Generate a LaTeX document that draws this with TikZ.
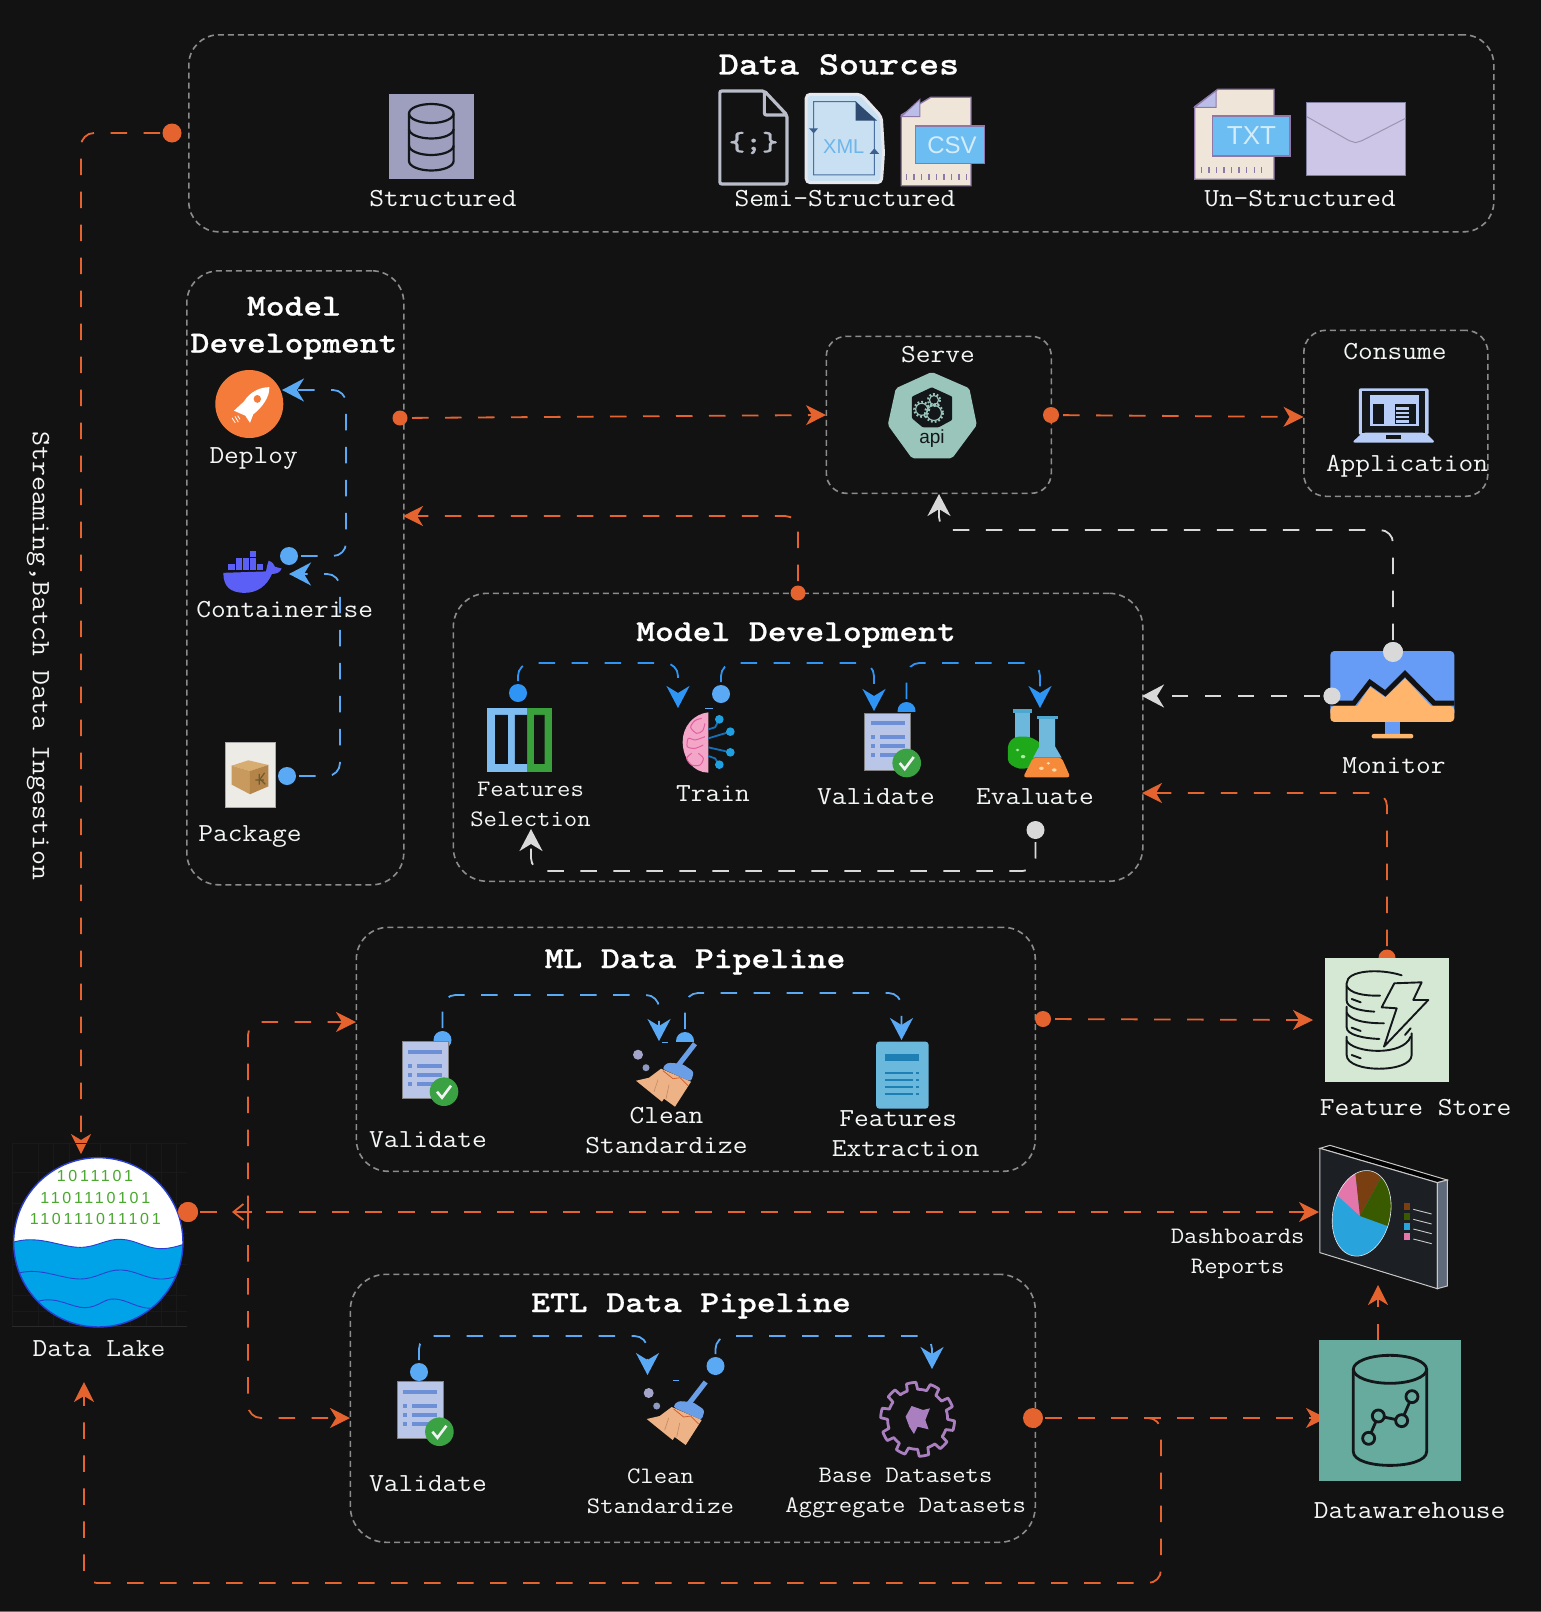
\documentclass[tikz,border=0pt]{standalone}
\usepackage{fontspec}
\usetikzlibrary{arrows.meta}
\newfontfamily\rgf[FakeStretch=1.10]{Latin Modern Mono}
\newfontfamily\bdf[FakeStretch=1.17,FakeBold=0.7,Extension=.otf]{lmmonolt10-bold}
\newfontfamily\lsans{Liberation Sans}
\newfontfamily\binf[LetterSpace=17]{Liberation Sans}
\definecolor{bgc}{HTML}{121212}
\definecolor{grpc}{HTML}{8C8C8C}
\definecolor{orng}{HTML}{E5632F}
\definecolor{blua}{HTML}{5AA9F5}
\definecolor{blub}{HTML}{2F95F5}
\definecolor{gryc}{HTML}{D9D9D9}
\definecolor{txtc}{HTML}{F4F6F6}
\definecolor{inkc}{HTML}{14171A}
\definecolor{papr}{HTML}{B9C6E8}
\definecolor{pln}{HTML}{6D8FD6}
\definecolor{lav}{HTML}{CDC6E6}
\definecolor{purp}{HTML}{8F78A8}
\definecolor{mailb}{HTML}{7F7F9F}
\definecolor{pkb}{HTML}{AAAAAA}
\definecolor{dbl}{HTML}{C8C8C8}
\definecolor{bing}{HTML}{4AA82E}
\definecolor{jsonc}{HTML}{B9BDC9}
\definecolor{xmlc}{HTML}{6DB5EA}
\definecolor{csvc}{HTML}{D4ECFA}
\definecolor{brsh}{HTML}{C08A60}
\definecolor{apic}{HTML}{9AC5BB}
\tikzset{
 HTML/.code={\definecolor{tmphtml}{HTML}{#1}\pgfkeysalso{color=tmphtml}},
 grp/.style={draw=grpc,line width=1.6pt,dash pattern=on 6pt off 4pt,inner sep=0pt,anchor=north west,rounded corners=#1},
 dotO/.style={circle,fill=orng,inner sep=0pt,minimum size=#1},
 dotB/.style={circle,fill=blua,inner sep=0pt,minimum size=#1},
 dotC/.style={circle,fill=blub,inner sep=0pt,minimum size=#1},
 dotG/.style={circle,fill=gryc,inner sep=0pt,minimum size=#1},
 con/.style={line width=1.8pt,dash pattern=on 16.5pt off 16.5pt,dash phase=21pt,rounded corners=13pt,draw=#1,
   -{Stealth[length=20pt,width=20pt,inset=6pt,fill=#1]}},
 conb/.style={line width=1.8pt,dash pattern=on 16.5pt off 16.5pt,dash phase=21pt,rounded corners=13pt,draw=#1,
   -{Stealth[length=22pt,width=23pt,inset=7pt,fill=#1]}},
 lb/.style={text=txtc,font=\rgf\fontsize{26}{30}\selectfont,align=center,inner sep=0pt},
 lbs/.style={text=txtc,font=\rgf\fontsize{23.6}{30}\selectfont,align=center,inner sep=0pt},
 ttl/.style={text=white,font=\bdf\fontsize{30.6}{37}\selectfont,align=center,inner sep=0pt},
 ttb/.style={text=white,font=\bdf\fontsize{32.6}{37}\selectfont,align=center,inner sep=0pt},
 ico/.style={inner sep=0pt},
 zb/.style={shift={(700,0)},x=0.5365pt,y=-0.3333pt},
 zc/.style={shift={(170,340)},x=0.3333pt,y=-0.3571pt},
 zd/.style={shift={(440,580)},x=0.4591pt,y=-0.3333pt},
 ze/.style={shift={(340,920)},x=0.4591pt,y=-0.3333pt},
 zf/.style={shift={(340,1270)},x=0.4591pt,y=-0.3333pt},
 zg/.style={shift={(1130,620)},x=0.3333pt,y=-0.3333pt},
 zh/.style={shift={(1130,1130)},x=0.3333pt,y=-0.3333pt},
 zi/.style={shift={(0,1130)},x=0.3333pt,y=-0.3333pt},
 zj/.style={shift={(660,690)},x=0.3333pt,y=-0.3333pt},
}
% paper with check, local px, origin at paper's top left
\newcommand{\valdoc}[2]{\begin{scope}[shift={(#1,#2)}]
 \fill[papr,draw=gray,line width=.8pt] (0,0) rectangle (46,57);
 \fill[pln] (6,8) rectangle (40,12);
 \foreach \yy in {22,31,40}{\fill[pln] (6,\yy) rectangle (10,\yy+4);\fill[pln] (15,\yy) rectangle (40,\yy+4);}
 \fill[HTML=3BA243] (42,50) circle[radius=14.3];
 \draw[white!90!gray,line width=2.6pt] (35,50) -- (40,56) -- (49,44);
\end{scope}}
% broom, local px
\newcommand{\broom}[2]{\begin{scope}[shift={(#1,#2)}]
 \fill[blua] (26,0) rectangle (32,1);
 \draw[HTML=6A9FE8,line width=5pt] (59,2) -- (42,24);
 \fill[HTML=6A9FE8,rounded corners=3pt] (31,21) -- (46,22) -- (58,30) -- (55,40) -- (26,27) -- cycle;
 \fill[HTML=EDB285] (25,27) -- (55,40) -- (39,65) -- (28,57) -- (26,60) -- (16,52) -- (0,39) -- (13,36) -- cycle;
 \draw[HTML=D0582A,line width=.7pt] (27,29) -- (37,37) -- (44,36) -- (52,44);
 \draw[brsh,line width=.6pt] (22,38) -- (18,50) (33,43) -- (30,57);
 \fill[HTML=A5A5CC] (2,13) circle[radius=5];
 \fill[HTML=8F9AC0] (10,26) circle[radius=3.5];
\end{scope}}
\begin{document}
\begin{tikzpicture}[x=1pt,y=-1pt]
\useasboundingbox (0,0) rectangle (1541,1612);
\fill[bgc] (0,0) rectangle (1541,1612);
\fill[HTML=6A6A6A] (0,1611.3) rectangle (1541,1612);
%% groups
\node[grp=30pt,minimum width=1305pt,minimum height=197pt] (gsrc) at (188,34) {};
\node[grp=32pt,minimum width=217pt,minimum height=614pt] (gdev) at (186,270) {};
\node[grp=20pt,minimum width=225pt,minimum height=157pt] (gserve) at (825.5,335.5) {};
\node[grp=22pt,minimum width=184pt,minimum height=166pt] (gcons) at (1303,329.5) {};
\node[grp=34pt,minimum width=689.5pt,minimum height=288pt] (gmod) at (452.5,592.5) {};
\node[grp=32pt,minimum width=679pt,minimum height=244pt] (gml) at (355.5,926.5) {};
\node[grp=36pt,minimum width=685pt,minimum height=268pt] (getl) at (349.5,1273.5) {};
%% dots and end points
\node[dotO=19pt] (dsrc) at (172,133) {};
\node[dotO=20pt] (dlake) at (188,1212) {};
\node[dotO=20pt] (detl) at (1033,1418) {};
\node[dotO=16pt] (dml) at (1043,1019) {};
\node[dotO=17pt] (dfs) at (1387,958) {};
\node[dotG=17pt] (dmon) at (1332,696) {};
\node[dotG=20pt] (dmtop) at (1393,652) {};
\node[dotO=15pt] (ddev) at (400,418) {};
\node[dotO=16pt] (dserve) at (1051,415) {};
\node[dotO=15pt] (dmod) at (798,593) {};
\node[dotB=18pt] (dpack) at (287,776) {};
\node[dotB=18pt] (ddock) at (289,556) {};
\node[dotC=18pt] (dfeat) at (518,693) {};
\node[dotB=18pt] (dtrain) at (721,694) {};
\node[dotC=18pt] (dval) at (906.5,711) {};
\node[dotG=18pt] (deval) at (1035.5,830) {};
\node[dotB=18pt] (dmlv) at (442.5,1040) {};
\node[dotB=18pt] (dmlc) at (685,1041) {};
\node[dotB=18pt] (detv) at (419,1372) {};
\node[dotB=18pt] (detc) at (715.5,1366) {};
\coordinate (tlake) at (81,1154);
\coordinate (adash) at (1319,1212);
\coordinate (jc) at (248,1212);
\coordinate (tml) at (356,1022);
\coordinate (tetl) at (350,1418);
\coordinate (twh) at (1326,1418);
\coordinate (jw) at (1144,1418);
\coordinate (wa) at (1161,1583);
\coordinate (tlk2) at (84,1382);
\coordinate (wb) at (1378,1340);
\coordinate (tdb) at (1378,1285);
\coordinate (tfs) at (1313,1020);
\coordinate (tmod) at (1142,793);
\coordinate (tmon) at (1142,696);
\coordinate (wc) at (1393,530);
\coordinate (tserve) at (939,494);
\coordinate (tserve2) at (826,415);
\coordinate (tcons) at (1303.5,417);
\coordinate (tdev) at (403,516);
\coordinate (wp) at (340,574);
\coordinate (tdock) at (289,574);
\coordinate (wq) at (346,390);
\coordinate (tdep) at (282,390);
\coordinate (wf) at (678,663);
\coordinate (tf) at (678,708);
\coordinate (wt) at (874,663);
\coordinate (tt) at (874,711);
\coordinate (wv) at (1040,663);
\coordinate (tv) at (1040,708);
\coordinate (we) at (531,871);
\coordinate (te) at (531,829);
\coordinate (wm) at (659,995);
\coordinate (tm) at (659,1041);
\coordinate (wn) at (901.5,993);
\coordinate (tn) at (901.5,1040);
\coordinate (wr) at (647.5,1336);
\coordinate (tr) at (647.5,1375);
\coordinate (ws) at (932,1336);
\coordinate (ts) at (932,1369);
\coordinate (jo) at (252,1212);
\coordinate (jt) at (232,1212);
%% connectors
\draw[con=orng] (dsrc.center) -| (tlake);
\draw[con=orng] (dlake.center) -- (adash);
\draw[line width=1.8pt,draw=orng,-{Straight Barb[length=10pt,width=16pt]}] (jo) -- (jt);
\draw[con=orng,dash phase=0pt] (jc) |- (tml);
\draw[con=orng,dash phase=0pt] (jc) |- (tetl);
\draw[con=orng] (detl.center) -- (twh);
\draw[con=orng,dash phase=0pt] (jw) -| (wa) -| (tlk2);
\draw[con=orng,dash phase=0pt] (wb) -- (tdb);
\draw[con=orng] (dml.center) -- (tfs);
\draw[con=orng] (dfs.center) |- (tmod);
\draw[conb=gryc] (dmon.center) -- (tmon);
\draw[conb=gryc] (dmtop.center) -- (wc) -- (wc -| tserve) -- (tserve);
\draw[con=orng] (ddev.center) -- (tserve2);
\draw[con=orng] (dserve.center) -- (tcons);
\draw[con=orng] (dmod.center) |- (tdev);
\draw[conb=blua] (dpack.center) -| (wp) -- (tdock);
\draw[conb=blua] (ddock.center) -| (wq) -- (tdep);
\draw[conb=blub] (dfeat.center) |- (wf) -- (tf);
\draw[conb=blub] (dtrain.center) |- (wt) -- (tt);
\draw[conb=blub] (dval.center) |- (wv) -- (tv);
\draw[conb=gryc] (deval.center) |- (we) -- (te);
\draw[conb=blua] (dmlv.center) |- (wm) -- (tm);
\draw[conb=blua] (dmlc.center) |- (wn) -- (tn);
\draw[conb=blua] (detv.center) |- (wr) -- (tr);
\draw[conb=blua] (detc.center) |- (ws) -- (ts);
%% ---------- icons
% structured
\fill[HTML=9E9EBE] (389,94.3) rectangle (473.6,179.3);
\begin{scope}[line width=2.2pt]
 \draw[inkc] (409,113.5) -- (409,161) arc[start angle=180,end angle=0,x radius=22.3,y radius=9.5] -- (453.6,113.5);
 \draw[inkc] (431.3,113.5) ellipse[x radius=22.3,y radius=9.5];
 \draw[inkc] (409,129) arc[start angle=180,end angle=0,x radius=22.3,y radius=9.5];
 \draw[inkc] (409,145.5) arc[start angle=180,end angle=0,x radius=22.3,y radius=9.5];
\end{scope}
% json, xml, csv, txt, mail
\begin{scope}[zb]
 \draw[jsonc,line width=3.2pt,rounded corners=2pt] (37,273) -- (120,273) -- (162,345) -- (162,552) -- (37,552) -- cycle (120,273) -- (120,345) -- (162,345);
 \fill[HTML=C8E0F2,rounded corners=4pt] (198,283) -- (300,283) -- (338,350) -- (342,460) -- (338,548) -- (198,548) -- (198,390) -- cycle;
 \draw[HTML=E6E8EE,line width=3pt,rounded corners=4pt] (198,283) -- (300,283) -- (338,350) -- (342,460) -- (338,548) -- (198,548) -- (198,390) -- cycle;
 \draw[HTML=4A6FA0,line width=1pt] (212,305) -- (290,305) -- (325,362) -- (325,525) -- (212,525) -- cycle;
 \fill[HTML=2E4A70] (290,305) -- (290,362) -- (330,362) -- cycle;
 \fill[HTML=3D5F8F] (203,385) -- (220,385) -- (212,400) -- cycle;
 \fill[HTML=3D5F8F] (316,462) -- (334,462) -- (325,445) -- cycle;
 \fill[HTML=EFE6D9,draw=purp,line width=1.3pt] (375,345) -- (430,292) -- (505,292) -- (505,557) -- (375,557) -- cycle;
 \fill[HTML=B9BDE8,draw=purp,line width=1pt] (375,350) -- (410,350) -- (410,298) -- cycle;
 \foreach \xx in {385,399,...,497}{\draw[purp,line width=1.4pt] (\xx,522) -- (\xx,540);}
 \fill[HTML=6CBDF2,draw=purp,line width=1.6pt] (402,378) rectangle (530,490);
 \fill[HTML=EFE6D9,draw=purp,line width=1.3pt] (922,320) -- (965,268) -- (1070,268) -- (1070,538) -- (922,538) -- cycle;
 \fill[HTML=B9BDE8,draw=purp,line width=1pt] (922,322) -- (962,322) -- (962,272) -- cycle;
 \foreach \xx in {935,949,...,1055}{\draw[purp,line width=1.4pt] (\xx,502) -- (\xx,520);}
 \fill[HTML=6CBDF2,draw=purp,line width=1.6pt] (955,348) rectangle (1100,468);
 \fill[lav,draw=mailb,line width=1pt] (1131,308) rectangle (1315,526);
 \draw[HTML=9A95B0,line width=1pt] (1131,350) -- (1210,422) -- (1222,428) -- (1234,422) -- (1315,355);
\end{scope}
% deploy
\fill[HTML=F47B39] (249.3,404) circle[radius=34];
\begin{scope}[zc]
 \fill[white] (298,132) .. controls (300,160) and (275,190) .. (250,208) -- (240,232) -- (226,212) -- (192,198) -- (222,172) .. controls (240,145) and (270,132) .. (298,132) -- cycle;
 \fill[HTML=F47B39] (262,165) circle[radius=11];
 \draw[white,line width=.8pt] (186,218) -- (196,232) (195,214) -- (205,230) (203,212) -- (210,222);
\end{scope}
% docker
\begin{scope}[zc]
 \fill[HTML=5B5FF5] (160,652) -- (288,648) .. controls (292,630) and (293,625) .. (296,618) .. controls (308,622) and (312,628) .. (315,635) -- (335,640) .. controls (330,652) and (318,655) .. (306,655) .. controls (290,690) and (260,708) .. (225,708) .. controls (180,708) and (160,690) .. (160,652) -- cycle;
 \foreach \xx in {175,197,218,240,261}{\fill[HTML=5B5FF5] (\xx,628) rectangle +(19,16);}
 \foreach \xx in {197,218,240}{\fill[HTML=5B5FF5] (\xx,610) rectangle +(19,16);}
 \fill[HTML=5B5FF5] (240,592) rectangle +(19,16);
% package
 \fill[HTML=ECEBE6,draw=pkb,line width=.5pt] (167,1127) rectangle (315,1308);
 \fill[HTML=D8AD72] (185,1192) -- (235,1177) -- (295,1190) -- (240,1207) -- cycle;
 \fill[HTML=C99A5D] (185,1192) -- (240,1207) -- (240,1272) -- (185,1245) -- cycle;
 \fill[HTML=B58448] (240,1207) -- (295,1190) -- (295,1250) -- (240,1272) -- cycle;
 \draw[HTML=6E5A30,line width=1.2pt] (268,1215) -- (268,1245) (284,1212) -- (270,1230) -- (286,1244) (256,1232) -- (282,1232);
\end{scope}
% api
\begin{scope}[zb]
 \fill[apic,rounded corners=2pt] (432,1116) -- (502,1165) -- (516,1275) -- (470,1375) -- (395,1375) -- (350,1275) -- (365,1165) -- cycle;
 \fill[inkc,rounded corners=1pt] (432,1162) -- (470,1190) -- (470,1260) -- (445,1282) -- (415,1282) -- (395,1255) -- (395,1190) -- cycle;
\end{scope}
\foreach \a/\b/\r in {921.7/409.3/6,934/400/4.5,934/413/7.5}{
 \draw[apic,line width=1.1pt] (\a,\b) circle[radius=\r];
 \draw[apic,line width=2.2pt,dash pattern=on 1.8pt off 2pt] (\a,\b) circle[radius=\r+1.4];
}
\begin{scope}[zb]
% laptop
 \fill[HTML=B8CCF8,rounded corners=2pt] (1228,1165) rectangle (1358,1305);
 \fill[inkc] (1234,1173) rectangle (1352,1298);
 \fill[HTML=B8CCF8] (1248,1185) rectangle (1340,1277);
 \fill[inkc] (1255,1213) rectangle (1275,1273);
 \fill[inkc] (1295,1213) rectangle (1335,1273);
 \foreach \yy in {1222,1235,1248,1261}{\fill[HTML=B8CCF8] (1298,\yy) rectangle (1322,\yy+7);}
 \fill[HTML=B8CCF8,rounded corners=3pt] (1235,1298) -- (1352,1298) -- (1371,1328) -- (1215,1328) -- cycle;
 \fill[inkc] (1278,1306) rectangle (1306,1318);
\end{scope}
% feature selection
\begin{scope}[zd]
 \fill[HTML=7FBDF0] (103,383) rectangle (190,575);
 \fill[HTML=39A03C] (190,383) rectangle (243,575);
 \fill[bgc] (120,405) rectangle (148,552) (163,405) rectangle (190,552) (205,405) rectangle (228,552);
\end{scope}
% brain
\begin{scope}[zj]
 \fill[blua] (135,54) rectangle (160,58);
 \fill[HTML=F4A6C8] (145,67) .. controls (100,72) and (68,110) .. (68,155) .. controls (68,205) and (100,248) .. (145,248) -- cycle;
 \draw[HTML=E0609F,line width=1pt,smooth] plot coordinates {(125,85) (105,92) (92,112) (110,130) (128,122) (135,100)};
 \draw[HTML=E0609F,line width=1pt] plot[smooth] coordinates {(135,140) (105,150) (85,145) (82,170) (105,175) (130,165)};
 \draw[HTML=E0609F,line width=1pt] plot[smooth] coordinates {(95,190) (80,205) (95,225) (120,225) (130,205) (115,190)};
 \draw[HTML=1670B8,line width=1.8pt] (145,118) -- (165,112) -- (178,88) (145,145) -- (211,125) (145,172) -- (211,187) (145,198) -- (165,205) -- (178,224);
 \fill[HTML=1FA0E0] (178,88) circle[radius=13] (211,125) circle[radius=13] (211,187) circle[radius=13] (178,224) circle[radius=13];
\end{scope}
% flasks
\begin{scope}[zd]
 \fill[HTML=6BB8DC] (1252,392) rectangle (1285,490);
 \fill[HTML=1FA81A,rounded corners=4pt] (1252,470) -- (1237,490) -- (1237,550) -- (1262,568) -- (1300,560) -- (1310,490) -- (1285,470) -- cycle;
 \fill[HTML=4DA7CF] (1247,388) rectangle (1290,400);
 \fill[bgc] (1275,592) -- (1305,505) -- (1305,420) -- (1350,420) -- (1375,592) -- cycle;
 \fill[HTML=70B8DC] (1305,412) -- (1340,412) -- (1340,500) -- (1354,533) -- (1292,533) -- (1305,500) -- cycle;
 \fill[HTML=4DA7CF] (1300,407) rectangle (1345,418);
 \fill[HTML=F58A3A,rounded corners=3pt] (1292,533) -- (1354,533) -- (1373,592) -- (1270,592) -- cycle;
 \fill[HTML=FFD9A8] (1310,565) circle[radius=5] (1338,570) circle[radius=5] (1325,550) circle[radius=4];
 \fill[HTML=B0E8A8] (1258,510) circle[radius=4] (1270,530) circle[radius=5];
\end{scope}
\fill[bgc] (890,712) rectangle (925,720);
\valdoc{864.7}{713}
\valdoc{402}{1041.7}
\valdoc{397.4}{1381.7}
\fill[bgc] (665,1041.7) rectangle (705,1060);
\broom{636}{1041.7}
\broom{646.7}{1380}
% features doc
\begin{scope}[ze]
 \fill[HTML=6AB9DC,rounded corners=3pt] (1168,365) rectangle (1282,566);
 \fill[HTML=1E7FB5] (1188,403) rectangle (1262,424);
 \foreach \yy in {455,476,497,518}{\fill[HTML=1E7FB5] (1188,\yy) rectangle (1248,\yy+8);\fill[HTML=1E7FB5] (1255,\yy) rectangle (1262,\yy+8);}
\end{scope}
% gear
\draw[HTML=A97FC0,line width=2.8pt,line join=round] plot[samples=145,domain=0:360] ({917.6+(33.5+3.5*((sin(10*\x)>0)?1:-1))*cos(\x)},{1419.3+(33.5+3.5*((sin(10*\x)>0)?1:-1))*sin(\x)}) -- cycle;
\begin{scope}[zf]
 \fill[HTML=A97FC0] (1245,408) -- (1270,420) -- (1285,415) -- (1275,450) -- (1282,478) -- (1258,470) -- (1250,492) -- (1240,470) -- (1232,440) -- cycle;
\end{scope}
% monitor
\begin{scope}[zg]
 \fill[HTML=669CF5,rounded corners=4pt] (601,93) rectangle (973,290);
 \fill[HTML=669CF5] (765,300) rectangle (810,345);
 \fill[HTML=FFB56B,rounded corners=2pt] (725,342) rectangle (850,355);
 \fill[HTML=FFB56B,rounded corners=4pt] (601,258) rectangle (973,306);
 \fill[HTML=FFB56B] (680,260) -- (720,200) -- (766,232) -- (825,175) -- (905,260) -- cycle;
 \draw[bgc,line width=5pt,miter limit=3] (601,249) -- (672,249) -- (720,187) -- (766,220) -- (825,161) -- (912,249) -- (973,249);
\end{scope}
\node[dotG=17pt] (dmon2) at (dmon) {};
\node[dotG=20pt] (dmtop2) at (dmtop) {};
% feature store
\fill[HTML=D5E8D4] (1325,957.7) rectangle (1449,1081.7);
\begin{scope}[zg,line width=1.9pt]
 \draw[inkc,line cap=round,line join=round] (815,1066) .. controls (750,1045) and (650,1050) .. (650,1090) -- (650,1142) .. controls (650,1160) and (680,1172) .. (733,1175);
 \draw[inkc,line cap=round] (650,1098) .. controls (660,1120) and (700,1128) .. (750,1127);
 \draw[inkc,line cap=round] (650,1160) -- (650,1222) .. controls (650,1245) and (700,1255) .. (748,1257);
 \draw[inkc,line cap=round] (650,1178) .. controls (660,1200) and (700,1210) .. (762,1210);
 \draw[inkc,line cap=round] (665,1137) -- (692,1147) (665,1223) -- (692,1233) (665,1305) -- (692,1315);
 \draw[inkc,line join=round] (793,1090) -- (875,1087) -- (850,1140) -- (895,1140) -- (762,1280) -- (800,1165) -- (755,1162) -- cycle;
 \draw[inkc,line cap=round] (650,1250) -- (650,1305) .. controls (650,1360) and (845,1360) .. (845,1305) -- (845,1240);
 \draw[inkc,line cap=round] (650,1262) .. controls (670,1300) and (820,1310) .. (842,1250) (825,1245) -- (842,1225);
\end{scope}
% dashboard
\begin{scope}[zh]
 \fill[black,draw=dbl,line width=1pt] (570,55) -- (600,46) -- (952,150) -- (922,158) -- cycle;
 \fill[HTML=1C2024,draw=dbl,line width=1pt] (570,55) -- (922,158) -- (922,476) -- (570,368) -- cycle;
 \fill[HTML=5E6A7A,draw=dbl,line width=1pt] (922,158) -- (952,150) -- (952,468) -- (922,476) -- cycle;
 \begin{scope}
  \clip[rotate around={-12:(695,250)}] (695,250) ellipse[x radius=86,y radius=130];
  \fill[HTML=29A3DC] (560,100) rectangle (820,400);
  \fill[HTML=E377AB] (560,140) -- (690,258) -- (673,100) -- (560,100) -- cycle;
  \fill[HTML=7A3F10] (673,100) -- (690,258) -- (760,130) -- (760,100) -- cycle;
  \fill[HTML=3A5A00] (760,130) -- (690,258) -- (820,305) -- (820,130) -- cycle;
 \end{scope}
 \draw[HTML=E6E6E6,line width=.6pt,rotate around={-12:(695,250)}] (695,250) ellipse[x radius=86,y radius=130];
 \fill[HTML=7A3F10] (822,220) rectangle (840,240);
 \fill[HTML=3A5A00] (822,250) rectangle (840,269);
 \fill[HTML=29A3DC] (822,280) rectangle (840,300);
 \fill[HTML=E377AB] (822,310) rectangle (840,330);
 \draw[dbl,line width=.9pt] (850,238) -- (905,252) (850,268) -- (905,282) (850,297) -- (905,311) (850,327) -- (905,341);
\end{scope}
% datawarehouse
\fill[HTML=67AB9F] (1319.3,1340) rectangle (1460.7,1480.7);
\begin{scope}[zh,line width=2.8pt]
 \draw[inkc] (780,718) ellipse[x radius=110,y radius=42];
 \draw[inkc] (670,718) -- (670,965) .. controls (670,1020) and (890,1020) .. (890,965) -- (890,718);
 \draw[inkc] (716,925) -- (745,858) -- (815,872) -- (846,800);
 \foreach \a/\b in {716/925,745/858,815/872,846/800}{\fill[HTML=67AB9F,draw=inkc] (\a,\b) circle[radius=18];}
\end{scope}
% data lake
\begin{scope}[zi]
 \foreach \xx in {36,114,160,208,300,392,438,485,530}{\draw[HTML=191919,line width=.5pt] (\xx,40) -- (\xx,590);}
 \foreach \yy in {40,128,220,310,404,497,544}{\draw[HTML=191919,line width=.5pt] (36,\yy) -- (560,\yy);}
 \draw[HTML=2A2A2A,line width=.8pt] (36,590) -- (560,590);
 \fill[white] (295,337) circle[radius=254];
 \begin{scope}
  \clip (295,337) circle[radius=254];
  \fill[HTML=00A2E8] (30,340) .. controls (110,310) and (180,352) .. (240,352) .. controls (290,352) and (320,325) .. (365,328) .. controls (410,330) and (440,358) .. (490,356) .. controls (510,355) and (530,350) .. (560,340) -- (560,600) -- (30,600) -- cycle;
  \draw[HTML=2A3FD0,line width=.9pt] (30,340) .. controls (110,310) and (180,352) .. (240,352) .. controls (290,352) and (320,325) .. (365,328) .. controls (410,330) and (440,358) .. (490,356) .. controls (510,355) and (530,350) .. (560,340);
  \draw[HTML=2A3FD0,line width=.9pt] (40,435) .. controls (110,405) and (180,447) .. (240,447) .. controls (290,447) and (320,417) .. (365,420) .. controls (410,422) and (440,449) .. (490,447) .. controls (510,446) and (530,440) .. (560,425);
  \draw[HTML=2A3FD0,line width=.9pt] (100,520) .. controls (160,490) and (210,533) .. (255,533) .. controls (295,533) and (310,505) .. (345,507) .. controls (385,510) and (410,535) .. (455,535);
 \end{scope}
 \draw[HTML=2A3FD0,line width=1.4pt] (295,337) circle[radius=254];
 \node[ico,text=bing,font=\binf\fontsize{16}{16}\selectfont] (r1) at (285,137) {1011101};
 \node[ico,text=bing,font=\binf\fontsize{16}{16}\selectfont] (r2) at (286,203) {1101110101};
 \node[ico,text=bing,font=\binf\fontsize{16}{16}\selectfont] (r3) at (286,268) {110111011101};
\end{scope}
\node[dotO=20pt] (dlake2) at (dlake) {};
%% icon text
\node[ico,text=jsonc,font=\bdf\fontsize{27}{27}\selectfont] (tjson) at (753.6,143) {\{;\}};
\node[ico,text=xmlc,font=\lsans\fontsize{20}{20}\selectfont] (txml) at (843.8,147) {XML};
\node[ico,text=csvc,font=\lsans\fontsize{24}{24}\selectfont] (tcsv) at (952,145) {CSV};
\node[ico,text=csvc,font=\lsans\fontsize{26}{26}\selectfont] (ttxt) at (1251.5,136) {TXT};
\node[ico,text=inkc,font=\lsans\fontsize{19}{19}\selectfont] (tapi) at (932,439) {api};
%% labels
\node[ttb] (ldata) at (839,64.5) {Data Sources};
\node[lb] (lstr) at (443,199) {Structured};
\node[lb] (lsemi) at (845,199) {Semi-Structured};
\node[lb] (luns) at (1300,199) {Un-Structured};
\node[ttl] (ldev) at (294,328) {Model\\Development};
\node[lb] (ldep) at (253.7,459) {Deploy};
\node[lb] (lcont) at (284.7,609.6) {Containerise};
\node[lb] (lpack) at (250,837) {Package};
\node[lb] (lserve) at (938,355) {Serve};
\node[lb] (lcons) at (1395,352) {Consume};
\node[lb] (lapp) at (1407,466) {Application};
\node[ttl] (lmod) at (796,635) {Model Development};
\node[lbs] (lfs) at (530.5,804) {Features\\Selection};
\node[lb] (ltr) at (713,794) {Train};
\node[lb] (lval) at (876,797) {Validate};
\node[lb] (lev) at (1035,797) {Evaluate};
\node[ttl] (lml) at (695,962) {ML Data Pipeline};
\node[lb] (lmv) at (428,1140) {Validate};
\node[lb] (lmc) at (666.5,1130.5) {Clean\\Standardize};
\node[lb] (lmf) at (905.6,1134) {Features\phantom{x}\\Extraction};
\node[ttl] (letl) at (691,1306) {ETL Data Pipeline};
\node[lb] (ltv) at (428,1484) {Validate};
\node[lbs] (ltc) at (660.5,1491) {Clean\\Standardize};
\node[lbs] (ltb) at (905.6,1493) {Base Datasets\\Aggregate Datasets};
\node[lb] (lmon) at (1394,766) {Monitor};
\node[lb] (lfst) at (1415.7,1108) {Feature Store};
\node[lbs] (ldsh) at (1237.7,1253.5) {Dashboards\\Reports};
\node[lb] (lwh) at (1409.5,1511) {Datawarehouse};
\node[lb] (llk) at (99,1349) {Data Lake};
\node[lb,rotate=-90,font=\rgf\fontsize{26.4}{30}\selectfont] (lside) at (38,656) {Streaming,Batch Data Ingestion};
\end{tikzpicture}
\end{document}
